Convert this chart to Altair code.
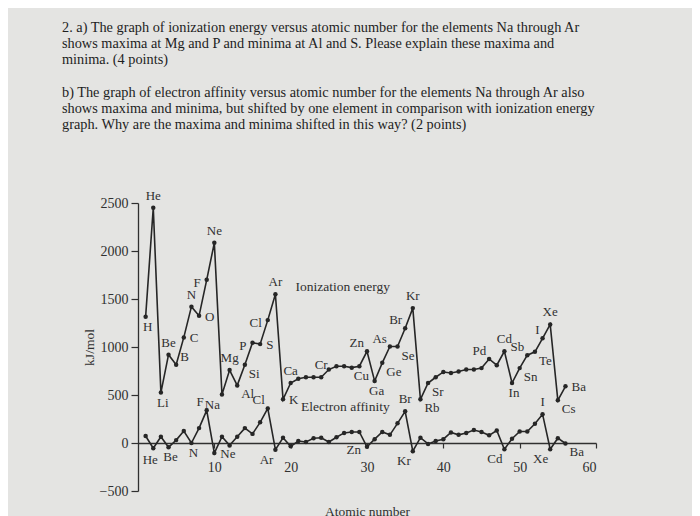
import altair as alt
import pandas as pd

# ---------------- data ----------------
symbols = ["H", "He", "Li", "Be", "B", "C", "N", "O", "F", "Ne",
           "Na", "Mg", "Al", "Si", "P", "S", "Cl", "Ar", "K", "Ca",
           "Sc", "Ti", "V", "Cr", "Mn", "Fe", "Co", "Ni", "Cu", "Zn",
           "Ga", "Ge", "As", "Se", "Br", "Kr", "Rb", "Sr", "Y", "Zr",
           "Nb", "Mo", "Tc", "Ru", "Rh", "Pd", "Ag", "Cd", "In", "Sn",
           "Sb", "Te", "I", "Xe", "Cs", "Ba"]
atomic_numbers = list(range(1, 57))

ionization_energy = [1315, 2450, 525, 920, 815, 1100, 1420, 1325, 1700, 2085,
                     505, 760, 600, 815, 1045, 1030, 1280, 1550, 455, 625,
                     670, 685, 685, 685, 765, 800, 800, 785, 800, 955,
                     645, 835, 1005, 1005, 1195, 1405, 455, 625, 685, 740,
                     730, 745, 765, 765, 780, 875, 810, 955, 625, 780,
                     915, 950, 1090, 1235, 445, 590]

electron_affinity = [73, -55, 65, -45, 30, 125, 0, 155, 340, -105,
                     65, -25, 65, 155, 95, 215, 360, -70, 55, -35,
                     20, 10, 50, 55, 10, 60, 105, 115, 115, -40,
                     40, 115, 85, 205, 330, -85, 55, -10, 20, 40,
                     110, 85, 105, 135, 115, 80, 130, -65, 45, 120,
                     120, 200, 300, -65, 50, -5]

x_ticks = [10, 20, 30, 40, 50, 60]
y_ticks = [-500, 0, 500, 1000, 1500, 2000, 2500]

# element labels by where they sit relative to their point
ie_label_groups = {
    "up": ["He", "Be", "N", "Ne", "Mg", "Ar", "Ca", "Cr", "Kr", "Cd", "Xe"],
    "down": ["H", "Li", "Cu", "Ga", "In"],
    "right": ["C", "O", "S", "K", "Ba"],
    "downright": ["Al", "Si", "Ge", "Se", "Rb", "Sr", "Sn", "Te", "Cs"],
    "upright": ["B"],
    "left": ["F", "P", "Cl"],
    "upleft": ["Zn", "As", "Br", "Pd", "Sb", "I"],
    "downleft": ["Na"],
}
ea_label_groups = {
    "down": ["Be", "N"],
    "downshift": ["He"],
    "downleft": ["Ar", "Kr", "Cd", "Xe"],
    "left": ["Zn"],
    "upleft": ["F", "Cl"],
    "up": ["Br", "I"],
    "right": ["Ne"],
    "downright": ["Ba"],
}
series_names = ["Ionization energy", "Electron affinity"]
series_anchor = ["Ar", "K"]

# ---------------- styles ----------------
INK = "#262626"
TXT = "#303030"
FONT = "Liberation Serif"
group_style = {
    "up": (0, -12, "center"),
    "down": (2, 10, "center"),
    "downshift": (-3, 12, "center"),
    "right": (6, 1, "left"),
    "left": (-6, 3, "right"),
    "downright": (4, 9, "left"),
    "upright": (4, -8, "left"),
    "upleft": (-3, -8, "right"),
    "downleft": (-2, 10, "right"),
}

# ---------------- tables ----------------
lines_df = pd.concat([
    pd.DataFrame({"Z": atomic_numbers, "value": ionization_energy,
                  "symbol": symbols, "series": "IE"}),
    pd.DataFrame({"Z": atomic_numbers, "value": electron_affinity,
                  "symbol": symbols, "series": "EA"}),
], ignore_index=True)

rows = []
for series, groups, vals in (("IE", ie_label_groups, ionization_energy),
                             ("EA", ea_label_groups, electron_affinity)):
    for g, syms in groups.items():
        for s in syms:
            i = symbols.index(s)
            rows.append({"Z": atomic_numbers[i], "value": vals[i],
                         "symbol": s, "group": g, "series": series})
labels_df = pd.DataFrame(rows)

ann_df = pd.DataFrame({
    "name": series_names,
    "Z": [atomic_numbers[symbols.index(s)] for s in series_anchor],
    "value": [ionization_energy[symbols.index(s)] for s in series_anchor],
})

W, H = 458, 288
x_enc = alt.X("Z:Q", scale=alt.Scale(domain=[0, 60], nice=False, zero=False),
              axis=alt.Axis(values=x_ticks, title="Atomic number", offset=-H / 6,
                            grid=False, tickSize=5, tickColor=TXT, tickWidth=1.2,
                            domainColor=TXT, domainWidth=1.3, labelPadding=12,
                            labelFont=FONT, labelFontSize=14, labelColor=TXT,
                            titleFont=FONT, titleFontSize=13.5, titleFontWeight="normal",
                            titleColor=TXT, titlePadding=30))
y_enc = alt.Y("value:Q", scale=alt.Scale(domain=[-500, 2500], nice=False, zero=False),
              axis=alt.Axis(values=y_ticks, format="d", title="kJ/mol", grid=False,
                            tickSize=7, tickColor=TXT, tickWidth=1.2, domainColor=TXT,
                            domainWidth=1.3, labelPadding=3, labelFont=FONT,
                            labelFontSize=14, labelColor=TXT, titleFont=FONT,
                            titleFontSize=13.5, titleFontWeight="normal",
                            titleColor=TXT, titlePadding=3))

lines = alt.Chart(lines_df).mark_line(
    color=INK, strokeWidth=1.6,
    point=alt.OverlayMarkDef(filled=True, size=20, color=INK),
).encode(x=x_enc, y=y_enc, detail="series:N", order="Z:Q")

layers = [lines]
for g, (dx, dy, align) in group_style.items():
    layers.append(
        alt.Chart(labels_df).transform_filter(alt.datum.group == g).mark_text(
            dx=dx, dy=dy, align=align, baseline="middle", font=FONT,
            fontSize=13, color=TXT,
        ).encode(x=x_enc, y=y_enc, text="symbol:N")
    )

layers.append(
    alt.Chart(ann_df).transform_filter(alt.datum.name == series_names[0]).mark_text(
        dx=20, dy=-7, align="left", baseline="middle", font=FONT, fontSize=13.5, color=TXT
    ).encode(x=x_enc, y=y_enc, text="name:N")
)
layers.append(
    alt.Chart(ann_df).transform_filter(alt.datum.name == series_names[1]).mark_text(
        dx=18, dy=8, align="left", baseline="middle", font=FONT, fontSize=13.5, color=TXT
    ).encode(x=x_enc, y=y_enc, text="name:N")
)

title_a = ["2. a) The graph of ionization energy versus atomic number for the elements Na through Ar",
           "shows maxima at Mg and P and minima at Al and S. Please explain these maxima and",
           "minima. (4 points)"]
title_b = ["b) The graph of electron affinity versus atomic number for the elements Na through Ar also",
           "shows maxima and minima, but shifted by one element in comparison with ionization energy",
           "graph. Why are the maxima and minima shifted in this way? (2 points)"]

chart = alt.layer(*layers).properties(
    width=W, height=H,
    autosize=alt.AutoSizeParams(type="none"),
    padding={"left": 130, "top": 195, "right": 96, "bottom": 25},
    background="#e4e4e2",
    title=alt.TitleParams(
        text=title_a, subtitle=title_b, anchor="start", frame="group",
        dx=-76, offset=58, font=FONT, fontSize=14.3, fontWeight="normal",
        color="#1e1e1e", lineHeight=16, subtitleFont=FONT, subtitleFontSize=14.3,
        subtitleColor="#1e1e1e", subtitleLineHeight=16, subtitlePadding=18,
    ),
).configure_view(stroke=None)

chart.save("out.html", embed_options={"renderer": "svg", "actions": False})
